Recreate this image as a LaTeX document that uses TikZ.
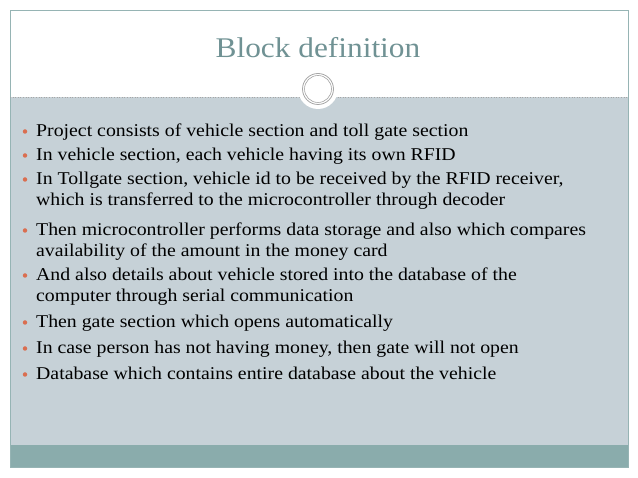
\documentclass[tikz,border=0pt]{standalone}
\usepackage{fontspec}
\setmainfont{Liberation Serif}[FakeStretch=1.1]
\definecolor{bodybg}{RGB}{198,209,215}
\definecolor{band}{RGB}{138,172,172}
\definecolor{titlec}{RGB}{112,146,148}
\definecolor{framec}{RGB}{150,180,180}
\definecolor{bul}{RGB}{218,110,80}
\begin{document}
\begin{tikzpicture}[x=1pt,y=-1pt,
  ln/.style={anchor=base west,inner sep=0,font=\fontsize{18}{20}\selectfont},
  bl/.style={circle,fill=bul,inner sep=0,minimum size=4.5pt}]
\useasboundingbox (0,0) rectangle (638,478);
\fill[white] (0,0) rectangle (638,478);
\fill[bodybg] (10,97) rectangle (628,445);
\fill[band] (10,445) rectangle (628,467);
\draw[framec,line width=0.6pt] (10,10) rectangle (628,467);
\draw[gray!70,dotted,line width=0.6pt] (10,97) -- (628,97);
\node[circle,fill=white,minimum size=40pt,inner sep=0] (c0) at (318,89) {};
\node[circle,draw=gray!70,line width=0.8pt,minimum size=31pt,inner sep=0] (c1) at (318,89) {};
\node[circle,draw=gray!70,line width=0.6pt,minimum size=27pt,inner sep=0] (c2) at (318,89) {};
\node[font=\fontsize{28.5}{30}\selectfont,text=titlec] (title) at (318,48) {Block definition};
\foreach \y/\t/\b in {
 137/{Project consists of vehicle section and toll gate section}/1,
 161/{In vehicle section, each vehicle having its own RFID}/1,
 185/{In Tollgate section, vehicle id to be received by the RFID receiver,}/1,
 206/{which is transferred to the microcontroller through decoder}/0,
 236/{Then microcontroller performs data storage and also which compares}/1,
 257/{availability of the amount in the money card}/0,
 281/{And also details about vehicle stored into the database of the}/1,
 302/{computer through serial communication}/0,
 328/{Then gate section which opens automatically}/1,
 354/{In case person has not having money, then gate will not open}/1,
 380/{Database which contains entire database about the vehicle}/1}
{
  \node[ln] (t\y) at (36,\y) {\t};
  \ifnum\b=1 \node[bl] (b\y) at (25,\y-5.5) {};\fi
}
\end{tikzpicture}
\end{document}
